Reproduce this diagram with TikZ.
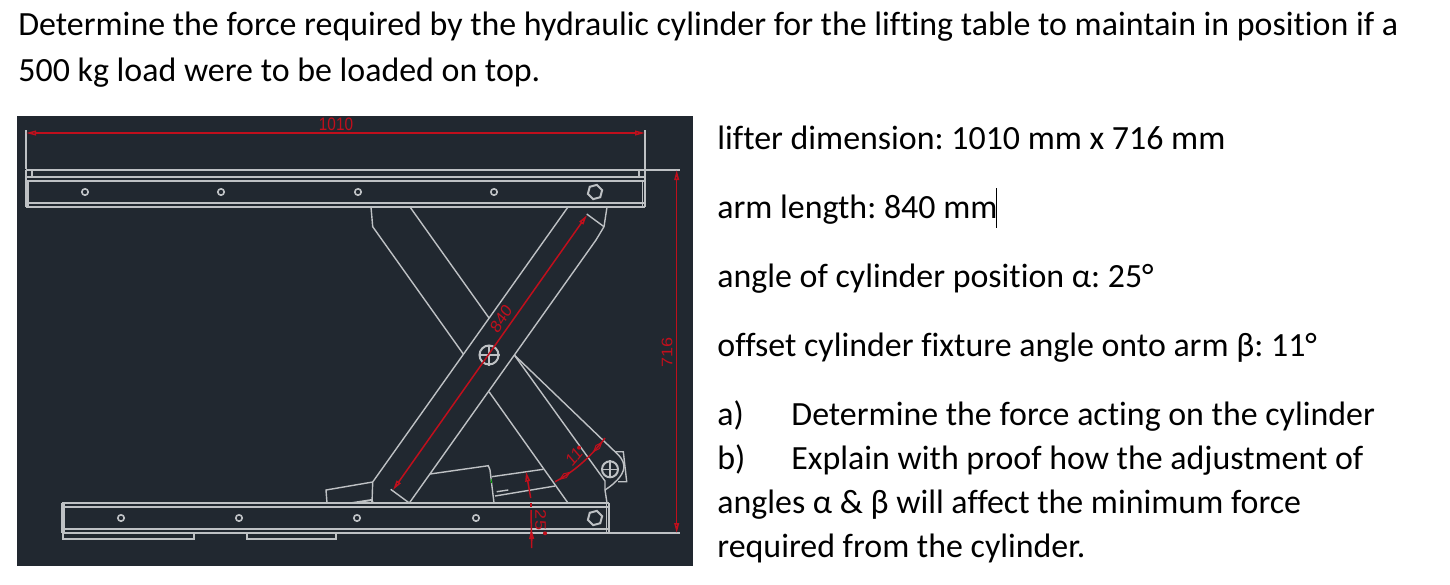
\documentclass[tikz,border=0pt]{standalone}
\usepackage{fontspec}
\setmainfont[Ligatures=NoCommon]{Carlito}
\setsansfont{Liberation Sans}
\usetikzlibrary{arrows.meta,shapes.geometric}
\definecolor{panelcol}{HTML}{212830}
\definecolor{linecol}{HTML}{BEC1C4}
\definecolor{dimcol}{HTML}{C00F1C}
\frenchspacing
\tikzset{
	bodytext/.style={anchor=base west,inner sep=0pt,yshift=-0.8pt,font=\fontsize{16.95}{20}\selectfont},
	part/.style={draw=linecol,line width=0.7pt},
	plate/.style={draw=linecol,line width=0.95pt},
	dimline/.style={draw=dimcol,line width=0.75pt},
	dimarrow/.style={dimline,{Triangle[open,length=5pt,width=2.4pt]}-{Triangle[open,length=5pt,width=2.4pt]}},
	dimtext/.style={text=dimcol,inner sep=0pt,font=\sffamily\fontsize{9}{9}\selectfont,xscale=0.85},
	hole/.style={circle,draw=linecol,line width=0.8pt,inner sep=0pt,minimum size=3.2pt},
	pin/.style={circle,draw=linecol,line width=1pt,inner sep=0pt,minimum size=8pt},
	hexnut/.style={regular polygon,regular polygon sides=6,shape border rotate=15,draw=linecol,line width=1pt,inner sep=0pt,minimum size=7.4pt}
}
\begin{document}
\begin{tikzpicture}[x=0.5pt,y=-0.5pt]
		\useasboundingbox (0,0) rectangle (1450,584);
		\fill[white] (0,0) rectangle (1450,584);
		\fill[panelcol] (17,116) rectangle (693,566);

		%question text
		\node[bodytext] (title1) at (18,34){Determine the force required by the hydraulic cylinder for the lifting table to maintain in position if a};
		\node[bodytext] (title2) at (18,80){500 kg load were to be loaded on top.};
		\node[bodytext] (dimtxt) at (717,148){lifter dimension: 1010 mm x 716 mm};
		\node[bodytext] (armtxt) at (717,217){arm length: 840 mm};
		\draw[black,line width=0.5pt] (996,188) -- (996,228);
		\node[bodytext] (alphatxt) at (717,286){angle of cylinder position α: 25°};
		\node[bodytext] (betatxt) at (717,355){offset cylinder fixture angle onto arm β: 11°};
		\node[bodytext] (alab) at (717,424){a)};
		\node[bodytext] (atxt) at (791,424){Determine the force acting on the cylinder};
		\node[bodytext] (blab) at (717,468){b)};
		\node[bodytext] (btxt) at (791,468){Explain with proof how the adjustment of};
		\node[bodytext] (btxt2) at (717,512){angles α \& β will affect the minimum force};
		\node[bodytext] (btxt3) at (717,556){required from the cylinder.};

		%top plate
		\foreach \y in {170, 177, 181, 203, 207}{
			\draw[plate] (26, \y)--(645, \y);
		}
		\draw[plate] (26,170)--(26,207);
		\draw[plate] (645,170)--(645,207);
		\draw[plate] (28,181)--(28,207);
		\draw[plate] (642.5,181)--(642.5,207);
		\draw[part] (32,170)--(32,177);
		\draw[part] (639,170)--(639,177);
		\foreach \x [count=\i] in {85, 221, 358, 494}{
			\node[hole] (tophole\i) at (\x,192){};
		}
		\node[hexnut] (topnut) at (595,192){};

		%bottom plate
		\foreach \y in {503, 507, 529, 533}{
			\draw[plate] (62, \y)--(609, \y);
		}
		\draw[plate] (62,503)--(62,533);
		\draw[plate] (64,503)--(64,533);
		\draw[plate] (606.5,503)--(606.5,533);
		\draw[plate] (609,503)--(609,533);
		\draw[plate] (63,533) rectangle (194,539);
		\draw[plate] (247,533) rectangle (336,539);
		\foreach \x [count=\i] in {121, 239, 357, 476}{
			\node[hole] (bothole\i) at (\x,518){};
		}
		\node[hexnut] (botnut) at (595,518){};

		%rising arm
		\draw[part] (372,503)--(372.7,482)--(568,207);
		\draw[part] (409.3,503)--(596,240)--(604,226.7)--(607,207);
		\draw[part] (390.7,489.3)--(409.3,503);
		\draw[part] (586.7,214)--(604,226.7);

		%falling arm
		\draw[part] (371,207)--(372.7,226.7)--(463.3,354);
		\draw[part] (410,207)--(489,318);
		\draw[part] (489,391.7)--(568,503);
		\draw[part] (514.3,355)--(605,481)--(605,490)--(607,503);
		\draw[part] (514.3,355)--(615,451.7) .. controls (622,458) and (635,470) .. (605,490);
		\draw[part] (615,451.7)--(623.3,451.7)--(626.7,481.7)--(618,481.7);
		\node[pin,minimum size=9.5pt] (midpin) at (489,355){};
		\draw[part] (midpin.north)--(midpin.south);
		\draw[part] (midpin.west)--(midpin.east);
		\node[pin] (rodpin) at (610,469.3){};
		\draw[part] (rodpin.north)--(rodpin.south);
		\draw[part] (rodpin.west)--(rodpin.east);

		%cylinder
		\draw[part] (372.7,482)--(326,490)--(327,503);
		\draw[plate] (352,503)--(371.5,500)--(373,503);
		\draw[part] (430,474)--(488.3,465.7)--(490,470)--(494,503);
		\draw[part] (491.7,476.7)--(543.3,469.3);
		\draw[part] (495,496)--(555,486);
		\draw[part] (496.7,491.7)--(508.3,490);
		\draw[draw=green!60!black,line width=0.5pt] (491,479)--(491.5,483);

		%dimensions
		\draw[part] (26,130)--(26,169);
		\draw[part] (645,130)--(645,169);
		\draw[part] (645,170)--(680,170);
		\draw[part] (609,533)--(680,533);
		\coordinate (widthleft) at (26,133);
		\coordinate (widthright) at (645,133);
		\draw[dimarrow] (widthleft)--(widthright);
		\node[dimtext] (widthlab) at (336,124){1010};
		\coordinate (heighttop) at (676.7,170);
		\coordinate (heightbot) at (676.7,533);
		\draw[dimarrow] (heighttop)--(heightbot);
		\node[dimtext,rotate=90] (heightlab) at (667,352){716};
		\coordinate (armlow) at (393,490);
		\coordinate (armhigh) at (587,215);
		\draw[dimarrow] (armlow)--(armhigh);
		\node[dimtext,rotate=54.5] (armlab) at (501,319){840};
		\coordinate (anglelow) at (555,481.7);
		\coordinate (anglehigh) at (605,438);
		\draw[dimline] (anglelow) .. controls (572,473) and (590,458) .. (anglehigh);
		\node[diamond,draw=dimcol,line width=0.5pt,inner sep=0pt,minimum width=6pt,minimum height=2.5pt,rotate=35] (anglemark1) at (565,475.7){};
		\node[diamond,draw=dimcol,line width=0.5pt,inner sep=0pt,minimum width=6pt,minimum height=2.5pt,rotate=48] (anglemark2) at (597.7,447){};
		\node[dimtext,rotate=45] (anglelab) at (574,457){11};
		\node[circle,fill=dimcol,inner sep=0pt,minimum size=2pt] (angledot) at (579,447.7){};
		\coordinate (gaptop) at (524.3,461.7);
		\coordinate (gapmid) at (530.7,498);
		\draw[dimline,{Triangle[open,length=5pt,width=2.4pt,sep=5pt]}-] (gaptop)--(gapmid);
		\draw[dimline] (531,503)--(531,507);
		\coordinate (gapup) at (531,510);
		\coordinate (gapdown) at (531.7,548);
		\draw[dimline] (gapup)--(gapdown);
		\draw[dimline,-{Triangle[open,length=5pt,width=2.4pt]}] (531.7,541)--(531.3,529);
		\node[dimtext,rotate=-90] (gaplab) at (540.7,520){25};
		\node[circle,fill=dimcol,inner sep=0pt,minimum size=2pt] (gapdot) at (545,533.3){};
		\end{tikzpicture}
\end{document}
